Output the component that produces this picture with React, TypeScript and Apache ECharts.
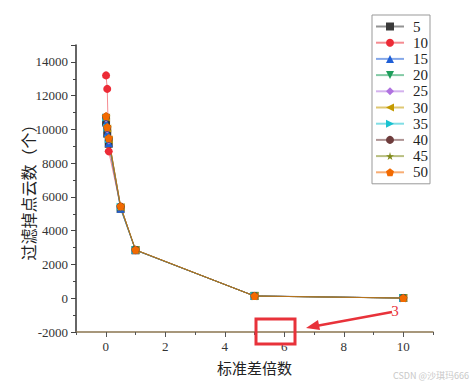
import React, { useEffect, useRef } from "react";
import * as echarts from "echarts";

const xValues = [0.01, 0.05, 0.1, 0.5, 1, 5, 10];
const seriesNames = ["5", "10", "15", "20", "25", "30", "35", "40", "45", "50"];
const s5 = [10450, 9750, 9150, 5300, 2840, 140, 15];
const s10 = [13200, 12400, 8700, 5400, 2850, 130, 10];
const s15 = [10400, 9800, 9200, 5300, 2850, 135, 12];
const s20 = [10600, 9950, 9300, 5350, 2850, 130, 10];
const s25 = [10650, 10000, 9350, 5400, 2860, 130, 10];
const s30 = [10700, 10050, 9400, 5400, 2860, 130, 10];
const s35 = [10700, 10100, 9420, 5420, 2860, 130, 10];
const s40 = [10750, 10100, 9450, 5430, 2870, 130, 10];
const s45 = [10780, 10120, 9480, 5440, 2870, 130, 10];
const s50 = [10790, 10140, 9490, 5450, 2870, 130, 10];
const allValues = [s5, s10, s15, s20, s25, s30, s35, s40, s45, s50];
const xTickLabels = [0, 2, 4, 6, 8, 10];

const colors = ["#3a3a3a", "#ec2b36", "#1f5fd6", "#1f9e5c", "#b072e0", "#c49a00", "#1ac2d0", "#6e3c3c", "#7f8a1a", "#f26a00"];
const STAR = "path://M50,0 L61,35 L98,35 L68,57 L79,91 L50,70 L21,91 L32,57 L2,35 L39,35 Z";
const PENTA = "path://M50,0 L100,38 L81,100 L19,100 L0,38 Z";
const symbols = ["rect", "circle", "triangle", "triangle", "diamond", "triangle", "triangle", "circle", STAR, PENTA];
const rotates = [0, 0, 0, 180, 0, 90, -90, 0, 0, 0];

const SERIF = "Liberation Serif";
const CJK = "Noto Sans CJK SC";

export default function App() {
  const ref = useRef<HTMLDivElement>(null);
  useEffect(() => {
    if (!ref.current) return;
    const chart = echarts.init(ref.current, undefined, { renderer: "svg" });
    const series = seriesNames.map((name, i) => ({
      name,
      type: "line",
      xAxisIndex: 0,
      data: xValues.map((x, j) => [x, allValues[i][j]]),
      symbol: symbols[i],
      symbolSize: i === 8 ? 9 : 8,
      symbolRotate: rotates[i],
      itemStyle: { color: colors[i] },
      lineStyle: { color: colors[i], width: 1, opacity: 0.55 },
      emphasis: { disabled: true },
    }));
    chart.setOption({
      animation: false,
      backgroundColor: "#ffffff",
      grid: { left: 76, right: 41, top: 45, bottom: 51 },
      legend: {
        orient: "vertical",
        left: 372,
        top: 15,
        padding: [4, 2, 4, 3],
        itemWidth: 28,
        itemHeight: 10,
        itemGap: 1.2,
        borderColor: "#999",
        borderWidth: 1,
        textStyle: { fontFamily: SERIF, fontSize: 15, color: "#222", padding: [0, 0, 0, 4] },
        data: seriesNames,
      },
      xAxis: [
        {
          type: "value",
          min: -1,
          max: 11,
          position: "bottom",
          name: "标准差倍数",
          nameLocation: "middle",
          nameGap: 28,
          nameMoveOverlap: false,
          nameTextStyle: { fontFamily: CJK, fontSize: 15, color: "#222" },
          axisLine: { show: true, onZero: false, lineStyle: { color: "#8a7550", width: 1.5 } },
          axisTick: { show: true, customValues: xTickLabels, length: 5, lineStyle: { color: "#555" } },
          axisLabel: { customValues: xTickLabels, fontFamily: SERIF, fontSize: 13, color: "#333", margin: 8 },
          splitLine: { show: false },
        },
        {
          type: "value",
          min: -1,
          max: 11,
          interval: 1,
          position: "bottom",
          axisLine: { show: false, onZero: false },
          axisTick: { show: true, length: 3, lineStyle: { color: "#555" } },
          axisLabel: { show: false },
          splitLine: { show: false },
        },
      ],
      yAxis: {
        type: "value",
        min: -2000,
        max: 15000,
        interval: 2000,
        name: "过滤掉点云数（个）",
        nameLocation: "middle",
        nameGap: 40,
        nameMoveOverlap: false,
        nameTextStyle: { fontFamily: CJK, fontSize: 16, color: "#222" },
        axisLine: { show: true, onZero: false, lineStyle: { color: "#333", width: 1.5 } },
        axisTick: { show: true, length: 5, lineStyle: { color: "#444" } },
        minorTick: { show: true, splitNumber: 2, length: 3, lineStyle: { color: "#444" } },
        axisLabel: {
          fontFamily: SERIF,
          fontSize: 13,
          color: "#333",
          margin: 8,
          showMaxLabel: false,
          formatter: (v: number) => (v % 2000 === 0 ? String(v) : ""),
        },
        splitLine: { show: false },
      },
      graphic: [
        {
          type: "rect",
          shape: { x: 256, y: 319, width: 39, height: 25 },
          style: { fill: "none", stroke: "#e8323a", lineWidth: 3 },
          z: 100,
        },
        {
          type: "line",
          shape: { x1: 392, y1: 312, x2: 316, y2: 326 },
          style: { stroke: "#e8323a", lineWidth: 2.5 },
          z: 100,
        },
        {
          type: "polygon",
          shape: { points: [[306, 328], [318, 320], [320, 330]] },
          style: { fill: "#e8323a" },
          z: 100,
        },
        {
          type: "text",
          x: 395,
          y: 311,
          style: { text: "3", fill: "#e8323a", fontFamily: SERIF, fontSize: 15, align: "center", verticalAlign: "middle" },
          z: 100,
        },
        {
          type: "text",
          x: 431,
          y: 375,
          style: { text: "CSDN @沙琪玛666", fill: "#c8c8c8", fontFamily: CJK, fontSize: 9, align: "center", verticalAlign: "middle" },
          z: 100,
        },
      ],
      series,
    });
    return () => chart.dispose();
  }, []);
  return <div ref={ref} style={{ width: 474, height: 383, position: "absolute", left: 0, top: 0 }} />;
}
